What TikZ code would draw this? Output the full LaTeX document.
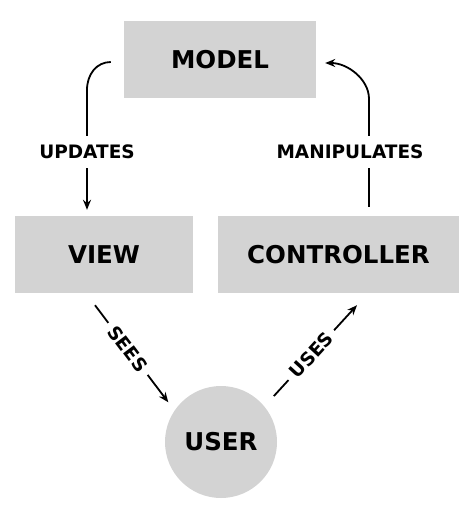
\documentclass[tikz,border=0pt]{standalone}
\usepackage{fontspec}
\setmainfont{DejaVu Sans}
\usepackage{tikz}
\usetikzlibrary{arrows.meta, positioning, calc}
\definecolor{boxgray}{RGB}{211,211,211}
\definecolor{mydark}{RGB}{0,0,0}
\tikzset{
  block/.style={rectangle, fill=boxgray, minimum height=77pt,
    font=\fontsize{24.5}{28}\selectfont\bfseries, inner sep=0pt},
  userdisc/.style={circle, fill=boxgray, minimum size=112pt,
    font=\fontsize{24.5}{28}\selectfont\bfseries, inner sep=0pt},
  edgelabel/.style={fill=white, inner xsep=6.5pt, inner ysep=9pt,
    font=\fontsize{18.5}{22}\selectfont\bfseries},
  arrow/.style={-{Stealth[length=10pt,width=8pt]}, line width=1.8pt, color=mydark}
}
\begin{document}
\begin{tikzpicture}[x=1pt,y=1pt]
  \useasboundingbox (0,0) rectangle (474,-521);
  % boxes
  \node[block, minimum width=192pt] (model) at (220,-59.5) {MODEL};
  \node[block, minimum width=178pt] (view) at (104,-254.5) {VIEW};
  \node[block, minimum width=241pt] (controller) at (338.5,-254.5) {CONTROLLER};
  \node[userdisc] (user) at (221,-442) {USER};
  % model -> view
  \coordinate (updfrom) at ([xshift=-13pt,yshift=-2.5pt]model.west);
  \coordinate (updto) at ([xshift=-17pt,yshift=6pt]view.north);
  \draw[arrow] (updfrom) .. controls ([xshift=-14pt]updfrom) and ([yshift=-12pt]updfrom -| updto)
    .. ([yshift=-28pt]updfrom -| updto)
    -- node[edgelabel, pos=0.515] {UPDATES} (updto);
  % controller -> model
  \coordinate (manfrom) at ([xshift=30.5pt,yshift=9pt]controller.north);
  \coordinate (manto) at ([xshift=9pt,yshift=-3.5pt]model.east);
  \draw[arrow] (manfrom) -- node[edgelabel, pos=0.51, xshift=-19pt] {MANIPULATES}
    ([yshift=-36pt]manto -| manfrom) .. controls ([yshift=-16pt]manto -| manfrom)
    and ([xshift=22pt]manto) .. (manto);
  % view -> user
  \draw[arrow] ([xshift=-9pt,yshift=-12pt]view.south)
    -- node[edgelabel, sloped, pos=0.45] {SEES} ($(user.center)!66pt!(user.143)$);
  % user -> controller
  \draw[arrow] ($(user.center)!70pt!(user.41)$)
    -- node[edgelabel, sloped, pos=0.45] {USES} ([xshift=18.5pt,yshift=-12pt]controller.south);
\end{tikzpicture}
\end{document}
